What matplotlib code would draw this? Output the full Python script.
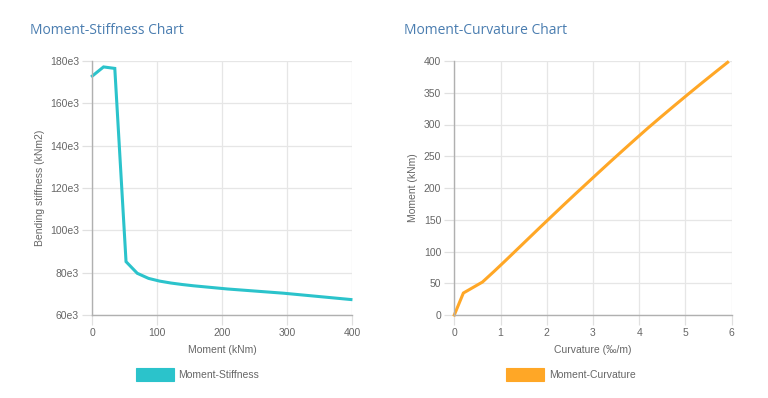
import matplotlib
matplotlib.use("Agg")
import matplotlib.pyplot as plt
from matplotlib.patches import Rectangle
from matplotlib.ticker import FuncFormatter

# data
moment = [0, 17.3, 34.6, 51.9, 69.2, 86.5, 103.8, 121.1, 138.4, 155.7, 173.0, 190.3,
          207.6, 224.9, 242.2, 259.5, 276.8, 294.1, 311.4, 328.7, 346.0, 363.3, 380.6, 397.9]
stiffness = [172.9, 177.2, 176.5, 85.2, 79.7, 77.3, 76.0, 75.1, 74.4, 73.8, 73.3, 72.8,
             72.3, 71.9, 71.5, 71.1, 70.7, 70.3, 69.8, 69.3, 68.8, 68.3, 67.8, 67.3]  # e3 kNm2
curvature = [0, 0.098, 0.196, 0.609, 0.868, 1.119, 1.366, 1.613, 1.860, 2.110, 2.360, 2.614,
             2.871, 3.128, 3.387, 3.650, 3.915, 4.183, 4.461, 4.743, 5.029, 5.319, 5.614, 5.912]

stiff_ticks = [60, 80, 100, 120, 140, 160, 180]
moment_ticks = [0, 100, 200, 300, 400]
curv_ticks = [0, 1, 2, 3, 4, 5, 6]
mom_ticks_y = [0, 50, 100, 150, 200, 250, 300, 350, 400]

CYAN = "#2bc3cb"
ORANGE = "#ffa726"
GREY = "#666666"
TITLE = "#4a7db0"
FS = 7.5

W, H = 768, 398
plt.rcParams["font.family"] = ["Liberation Sans", "DejaVu Sans"]

fig = plt.figure(figsize=(W / 100, H / 100), dpi=100)
fig.patch.set_facecolor("white")


def px_axes(x0, x1, y0, y1):
    return fig.add_axes([x0 / W, 1 - y1 / H, (x1 - x0) / W, (y1 - y0) / H])


def style(ax):
    ax.set_facecolor("white")
    for s in ["top", "right"]:
        ax.spines[s].set_visible(False)
    for s in ["left", "bottom"]:
        ax.spines[s].set_color("#b0b0b0")
        ax.spines[s].set_linewidth(1.0)
    ax.grid(True, color="#e6e6e6", linewidth=0.9)
    ax.set_axisbelow(True)
    ax.tick_params(colors="#e0e0e0", labelcolor=GREY, labelsize=FS, length=7, width=0.9, pad=2.5)
    ax.xaxis.label.set_color(GREY)
    ax.yaxis.label.set_color(GREY)


def place_labels(ax, x0, x1, y0, y1, ylab_x, xlab_y):
    # axis label centres given in figure pixels
    ax.xaxis.set_label_coords(0.5, (y1 - xlab_y) / (y1 - y0))
    ax.yaxis.set_label_coords((ylab_x - x0) / (x1 - x0), 0.5)
    ax.xaxis.label.set_va("center")
    ax.yaxis.label.set_va("center")


def legend_box(x0, label, color):
    fig.patches.append(Rectangle((x0 / W, 1 - 381 / H), 38 / W, 13.5 / H, transform=fig.transFigure,
                                 facecolor=color, edgecolor=color, alpha=1, linewidth=0.8))
    fig.text((x0 + 43) / W, 1 - 374.5 / H, label, color=GREY, fontsize=FS, va="center", ha="left")


# left chart
L = (92.3, 352.3, 61, 315)
ax1 = px_axes(*L)
style(ax1)
ax1.plot(moment, stiffness, color=CYAN, linewidth=2.2, solid_joinstyle="miter", clip_on=False)
ax1.set_xlim(0, 400)
ax1.set_ylim(60, 180)
ax1.set_xticks(moment_ticks)
ax1.set_yticks(stiff_ticks)
ax1.yaxis.set_major_formatter(FuncFormatter(lambda v, p: "%de3" % v))
ax1.set_xlabel("Moment (kNm)", fontsize=FS)
ax1.set_ylabel("Bending stiffness (kNm2)", fontsize=FS)
place_labels(ax1, *L, ylab_x=40, xlab_y=350)
fig.text(30 / W, 1 - 34.5 / H, "Moment-Stiffness Chart", color=TITLE, fontsize=10,
         family=["Open Sans", "DejaVu Sans"], va="baseline")
legend_box(135.5, "Moment-Stiffness", CYAN)

# right chart
R = (454.3, 731.7, 61, 315)
ax2 = px_axes(*R)
style(ax2)
ax2.plot(curvature, moment, color=ORANGE, linewidth=2.2, solid_joinstyle="miter", clip_on=False)
ax2.set_xlim(0, 6)
ax2.set_ylim(0, 400)
ax2.set_xticks(curv_ticks)
ax2.set_yticks(mom_ticks_y)
ax2.set_xlabel("Curvature (‰/m)", fontsize=FS)
ax2.set_ylabel("Moment (kNm)", fontsize=FS)
place_labels(ax2, *R, ylab_x=413, xlab_y=350)
fig.text(404 / W, 1 - 34.5 / H, "Moment-Curvature Chart", color=TITLE, fontsize=10,
         family=["Open Sans", "DejaVu Sans"], va="baseline")
legend_box(506, "Moment-Curvature", ORANGE)

fig.savefig("out.png", dpi=100)
